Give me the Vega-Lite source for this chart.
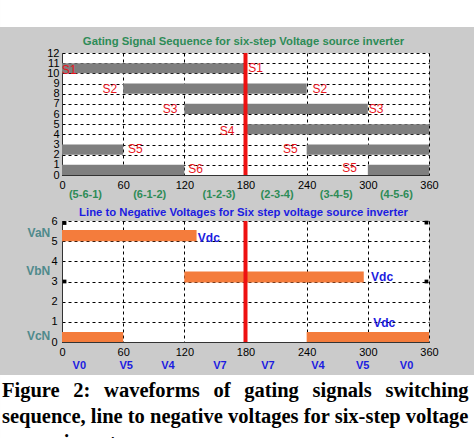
{
  "$schema": "https://vega.github.io/schema/vega-lite/v6.json",
  "background": "#cbcbcb",
  "padding": 0,
  "spacing": 46,
  "bounds": "flush",
  "config": {
    "view": {"stroke": null, "fill": "white"},
    "axis": {
      "labelFont": "Liberation Sans",
      "labelFontSize": 11,
      "labelColor": "black",
      "labelOverlap": false,
      "labelFlush": false,
      "labelPadding": 4,
      "grid": true,
      "gridColor": "black",
      "gridDash": [3, 3],
      "gridOpacity": 1,
      "domainColor": "#333333",
      "ticks": false,
      "title": null
    },
    "text": {"font": "Liberation Sans"}
  },
  "vconcat": [
    {
      "width": 367,
      "height": 122,
      "layer": [
        {
          "data": {"values": [{}]},
          "mark": {"type": "rect", "color": "white"},
          "encoding": {
            "x": {"datum": -60.8, "type": "quantitative", "scale": {"domain": [0, 360], "nice": false}, "axis": {"values": [0, 60, 120, 180, 240, 300, 360]}},
            "x2": {"datum": 404.2},
            "y": {"datum": 14.56, "type": "quantitative", "scale": {"domain": [0, 12], "nice": false}, "axis": {"values": [0, 1, 2, 3, 4, 5, 6, 7, 8, 9, 10, 11, 12], "labelPadding": 3}},
            "y2": {"datum": 17.21}
          }
        },
        {
          "data": {"values": [{"t": "Gating Signal Sequence for six-step Voltage source inverter"}]},
          "mark": {"type": "text", "color": "#2e8b57", "fontSize": 11.3, "fontWeight": "bold", "align": "center", "baseline": "alphabetic"},
          "encoding": {
            "x": {"datum": 178, "type": "quantitative", "scale": {"domain": [0, 360], "nice": false}, "axis": {"values": [0, 60, 120, 180, 240, 300, 360]}},
            "y": {"datum": 12.79, "type": "quantitative", "scale": {"domain": [0, 12], "nice": false}, "axis": {"values": [0, 1, 2, 3, 4, 5, 6, 7, 8, 9, 10, 11, 12], "labelPadding": 3}},
            "text": {"field": "t"}
          }
        },
        {
          "data": {
            "values": [
              {"sig": "S1", "start": 0, "end": 180, "lo": 10, "hi": 11},
              {"sig": "S2", "start": 60, "end": 240, "lo": 8, "hi": 9},
              {"sig": "S3", "start": 120, "end": 300, "lo": 6, "hi": 7},
              {"sig": "S4", "start": 180, "end": 360, "lo": 4, "hi": 5},
              {"sig": "S5", "start": 0, "end": 60, "lo": 2, "hi": 3},
              {"sig": "S5", "start": 240, "end": 360, "lo": 2, "hi": 3},
              {"sig": "S6", "start": 0, "end": 120, "lo": 0, "hi": 1},
              {"sig": "S6", "start": 300, "end": 360, "lo": 0, "hi": 1}
            ]
          },
          "mark": {"type": "rect", "color": "#7f7f7f"},
          "encoding": {
            "x": {"field": "start", "type": "quantitative", "scale": {"domain": [0, 360], "nice": false}, "axis": {"values": [0, 60, 120, 180, 240, 300, 360]}},
            "x2": {"field": "end"},
            "y": {"field": "lo", "type": "quantitative", "scale": {"domain": [0, 12], "nice": false}, "axis": {"values": [0, 1, 2, 3, 4, 5, 6, 7, 8, 9, 10, 11, 12], "labelPadding": 3}},
            "y2": {"field": "hi"}
          }
        },
        {
          "data": {"values": [{}]},
          "mark": {"type": "rule", "color": "#ee1111", "strokeWidth": 4},
          "encoding": {
            "x": {"datum": 180, "type": "quantitative", "scale": {"domain": [0, 360], "nice": false}, "axis": {"values": [0, 60, 120, 180, 240, 300, 360]}}
          }
        },
        {
          "data": {
            "values": [
              {"lab": "S1", "x": 7, "y": 10.35},
              {"lab": "S1", "x": 190, "y": 10.5},
              {"lab": "S2", "x": 47, "y": 8.45},
              {"lab": "S2", "x": 253, "y": 8.45},
              {"lab": "S3", "x": 106, "y": 6.5},
              {"lab": "S3", "x": 308, "y": 6.5},
              {"lab": "S4", "x": 162, "y": 4.35},
              {"lab": "S5", "x": 72, "y": 2.55},
              {"lab": "S5", "x": 224, "y": 2.55},
              {"lab": "S6", "x": 131, "y": 0.6},
              {"lab": "S5", "x": 282, "y": 0.7}
            ]
          },
          "mark": {"type": "text", "color": "#e8141c", "font": "Liberation Sans", "fontSize": 12, "baseline": "middle"},
          "encoding": {
            "x": {"field": "x", "type": "quantitative", "scale": {"domain": [0, 360], "nice": false}, "axis": {"values": [0, 60, 120, 180, 240, 300, 360]}},
            "y": {"field": "y", "type": "quantitative", "scale": {"domain": [0, 12], "nice": false}, "axis": {"values": [0, 1, 2, 3, 4, 5, 6, 7, 8, 9, 10, 11, 12], "labelPadding": 3}},
            "text": {"field": "lab"}
          }
        },
        {
          "data": {
            "values": [
              {"lab": "(5-6-1)", "x": 23},
              {"lab": "(6-1-2)", "x": 86},
              {"lab": "(1-2-3)", "x": 154},
              {"lab": "(2-3-4)", "x": 211},
              {"lab": "(3-4-5)", "x": 269},
              {"lab": "(4-5-6)", "x": 328}
            ]
          },
          "mark": {"type": "text", "color": "#2e8b57", "fontSize": 11, "fontWeight": "bold", "baseline": "middle"},
          "encoding": {
            "x": {"field": "x", "type": "quantitative", "scale": {"domain": [0, 360], "nice": false}, "axis": {"values": [0, 60, 120, 180, 240, 300, 360]}},
            "y": {"datum": -1.95, "type": "quantitative", "scale": {"domain": [0, 12], "nice": false}, "axis": {"values": [0, 1, 2, 3, 4, 5, 6, 7, 8, 9, 10, 11, 12], "labelPadding": 3}},
            "text": {"field": "lab"}
          }
        }
      ]
    },
    {
      "width": 367,
      "height": 121,
      "layer": [
        {
          "data": {"values": [{"t": "Line to Negative Voltages for Six step voltage source inverter"}]},
          "mark": {"type": "text", "color": "#1c1ce0", "fontSize": 11.3, "fontWeight": "bold", "align": "center", "baseline": "alphabetic"},
          "encoding": {
            "x": {"datum": 178, "type": "quantitative", "scale": {"domain": [0, 360], "nice": false}, "axis": {"values": [0, 60, 120, 180, 240, 300, 360]}},
            "y": {"datum": 6.25, "type": "quantitative", "scale": {"domain": [0, 6], "nice": false}, "axis": {"values": [0, 1, 2, 3, 4, 5, 6], "labelPadding": 5}},
            "text": {"field": "t"}
          }
        },
        {
          "data": {
            "values": [
              {"v": "VaN", "start": 0, "end": 132, "lo": 5, "hi": 5.55},
              {"v": "VbN", "start": 120, "end": 296, "lo": 2.95, "hi": 3.5},
              {"v": "VcN", "start": 0, "end": 60, "lo": 0, "hi": 0.5},
              {"v": "VcN", "start": 240, "end": 360, "lo": 0, "hi": 0.5}
            ]
          },
          "mark": {"type": "rect", "color": "#f47c3c"},
          "encoding": {
            "x": {"field": "start", "type": "quantitative", "scale": {"domain": [0, 360], "nice": false}, "axis": {"values": [0, 60, 120, 180, 240, 300, 360]}},
            "x2": {"field": "end"},
            "y": {"field": "lo", "type": "quantitative", "scale": {"domain": [0, 6], "nice": false}, "axis": {"values": [0, 1, 2, 3, 4, 5, 6], "labelPadding": 5}},
            "y2": {"field": "hi"}
          }
        },
        {
          "data": {"values": [{}]},
          "mark": {"type": "rule", "color": "#ee1111", "strokeWidth": 4},
          "encoding": {
            "x": {"datum": 180, "type": "quantitative", "scale": {"domain": [0, 360], "nice": false}, "axis": {"values": [0, 60, 120, 180, 240, 300, 360]}}
          }
        },
        {
          "data": {
            "values": [
              {"x": 2.5, "y": 5.9},
              {"x": 2.5, "y": 3.0},
              {"x": 357.5, "y": 5.92},
              {"x": 357.5, "y": 3.0}
            ]
          },
          "mark": {"type": "square", "color": "black", "filled": true, "opacity": 1, "size": 14},
          "encoding": {
            "x": {"field": "x", "type": "quantitative", "scale": {"domain": [0, 360], "nice": false}, "axis": {"values": [0, 60, 120, 180, 240, 300, 360]}},
            "y": {"field": "y", "type": "quantitative", "scale": {"domain": [0, 6], "nice": false}, "axis": {"values": [0, 1, 2, 3, 4, 5, 6], "labelPadding": 5}}
          }
        },
        {
          "data": {
            "values": [
              {"lab": "Vdc", "x": 144, "y": 5.16},
              {"lab": "Vdc", "x": 314, "y": 3.22},
              {"lab": "Vdc", "x": 316, "y": 0.95}
            ]
          },
          "mark": {"type": "text", "color": "#1c1ce0", "fontSize": 12, "fontWeight": "bold", "baseline": "middle"},
          "encoding": {
            "x": {"field": "x", "type": "quantitative", "scale": {"domain": [0, 360], "nice": false}, "axis": {"values": [0, 60, 120, 180, 240, 300, 360]}},
            "y": {"field": "y", "type": "quantitative", "scale": {"domain": [0, 6], "nice": false}, "axis": {"values": [0, 1, 2, 3, 4, 5, 6], "labelPadding": 5}},
            "text": {"field": "lab"}
          }
        },
        {
          "data": {
            "values": [
              {"lab": "VaN", "y": 5.4},
              {"lab": "VbN", "y": 3.5},
              {"lab": "VcN", "y": 0.3}
            ]
          },
          "mark": {"type": "text", "color": "#4f8a8b", "fontSize": 12, "fontWeight": "bold", "align": "right", "baseline": "middle"},
          "encoding": {
            "x": {"datum": -11.5, "type": "quantitative", "scale": {"domain": [0, 360], "nice": false}, "axis": {"values": [0, 60, 120, 180, 240, 300, 360]}},
            "y": {"field": "y", "type": "quantitative", "scale": {"domain": [0, 6], "nice": false}, "axis": {"values": [0, 1, 2, 3, 4, 5, 6], "labelPadding": 5}},
            "text": {"field": "lab"}
          }
        },
        {
          "data": {
            "values": [
              {"lab": "V0", "x": 17},
              {"lab": "V5", "x": 63},
              {"lab": "V4", "x": 104},
              {"lab": "V7", "x": 155},
              {"lab": "V7", "x": 202},
              {"lab": "V4", "x": 251},
              {"lab": "V5", "x": 295},
              {"lab": "V0", "x": 338}
            ]
          },
          "mark": {"type": "text", "color": "#1c1ce0", "fontSize": 11, "fontWeight": "bold", "baseline": "middle"},
          "encoding": {
            "x": {"field": "x", "type": "quantitative", "scale": {"domain": [0, 360], "nice": false}, "axis": {"values": [0, 60, 120, 180, 240, 300, 360]}},
            "y": {"datum": -1.19, "type": "quantitative", "scale": {"domain": [0, 6], "nice": false}, "axis": {"values": [0, 1, 2, 3, 4, 5, 6], "labelPadding": 5}},
            "text": {"field": "lab"}
          }
        },
        {
          "data": {"values": [{}]},
          "mark": {"type": "rect", "color": "white"},
          "encoding": {
            "x": {"datum": -60.8, "type": "quantitative", "scale": {"domain": [0, 360], "nice": false}, "axis": {"values": [0, 60, 120, 180, 240, 300, 360]}},
            "x2": {"datum": 404.2},
            "y": {"datum": -1.635, "type": "quantitative", "scale": {"domain": [0, 6], "nice": false}, "axis": {"values": [0, 1, 2, 3, 4, 5, 6], "labelPadding": 5}},
            "y2": {"datum": -4.76}
          }
        },
        {
          "data": {"values": [{}]},
          "mark": {
            "type": "text",
            "text": ["Figure\u2002\u200a\u200a2:\u2002\u200a\u200awaveforms\u2002\u200a\u200aof\u2002\u200a\u200agating\u2002\u200a\u200asignals\u2002\u200a\u200aswitching", "sequence, line to negative voltages for six-step voltage", "source inverter"],
            "font": "Liberation Serif",
            "fontSize": 20.5,
            "fontWeight": "bold",
            "color": "black",
            "align": "left",
            "baseline": "alphabetic",
            "lineHeight": 26
          },
          "encoding": {
            "x": {"datum": -58.9, "type": "quantitative", "scale": {"domain": [0, 360], "nice": false}, "axis": {"values": [0, 60, 120, 180, 240, 300, 360]}},
            "y": {"datum": -2.726, "type": "quantitative", "scale": {"domain": [0, 6], "nice": false}, "axis": {"values": [0, 1, 2, 3, 4, 5, 6], "labelPadding": 5}}
          }
        }
      ]
    }
  ]
}
